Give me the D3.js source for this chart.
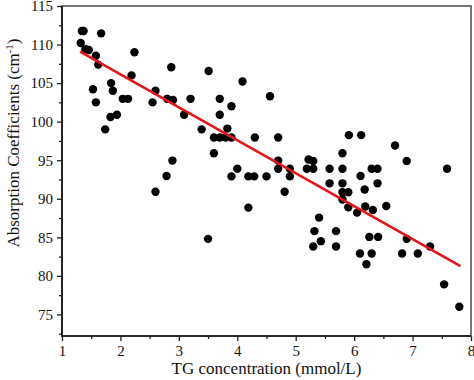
<!DOCTYPE html>
<html>
<head>
<meta charset="utf-8">
<script src="https://cdn.jsdelivr.net/npm/d3@7"></script>
<style>
  body { margin: 0; background: #fff; }
  text { font-family: "Liberation Serif", "Times New Roman", serif; }
</style>
</head>
<body>
<svg width="474" height="380"></svg>
<script>
var WIDTH = 474;
var HEIGHT = 380;

// TG concentration (mmol/L)
var tgValues = [
  1.34, 1.37, 1.32, 1.67, 1.40, 1.46, 1.58, 1.62, 2.24, 2.19,
  2.87, 1.84, 1.87, 1.53, 1.58, 2.04, 2.13, 1.83, 1.94, 1.74,
  2.60, 2.55, 2.80, 2.90, 3.20, 3.09, 3.39, 2.89, 2.79, 2.60,
  3.51, 4.09, 3.70, 3.70, 3.90, 4.56, 3.83, 3.60, 3.70, 3.80,
  3.90, 4.30, 4.70, 3.60, 4.70, 4.70, 4.90, 5.22, 5.30, 5.19,
  5.30, 5.58, 4.00, 3.90, 4.19, 4.29, 4.50, 4.90, 5.58, 4.81,
  4.19, 3.50, 5.40, 5.32, 5.43, 5.30, 5.91, 6.12, 6.70, 5.80,
  6.90, 5.80, 6.30, 6.40, 7.59, 6.11, 5.80, 6.40, 6.18, 5.80,
  5.90, 5.80, 5.90, 6.05, 6.19, 6.32, 6.55, 5.69, 5.69, 6.26,
  6.41, 6.90, 7.30, 6.10, 6.30, 6.82, 7.09, 6.21, 7.54, 7.80
];
// absorption coefficients (cm-1), same order
var absValues = [
  111.75, 111.75, 110.2, 111.45, 109.4, 109.3, 108.55, 107.4, 109.0, 106.0,
  107.05, 105.0, 104.0, 104.2, 102.5, 102.96, 102.96, 100.6, 100.9, 99.0,
  104.0, 102.5, 102.96, 102.8, 102.96, 100.9, 99.0, 94.95, 92.96, 90.9,
  106.56, 105.2, 102.96, 100.9, 102.0, 103.3, 99.1, 97.94, 97.94, 97.94,
  97.94, 97.94, 97.94, 95.9, 94.95, 93.9, 93.9, 95.1, 94.9, 93.9,
  93.9, 93.9, 93.9, 92.9, 92.9, 92.9, 92.9, 92.9, 92.0, 90.9,
  88.85, 84.8, 87.55, 85.8, 84.5, 83.8, 98.25, 98.25, 96.9, 95.9,
  94.9, 93.9, 93.9, 93.9, 93.9, 92.96, 92.0, 92.0, 91.2, 90.85,
  90.85, 89.9, 88.9, 88.2, 89.0, 88.55, 89.07, 85.8, 83.8, 85.05,
  85.05, 84.8, 83.8, 82.9, 82.9, 82.9, 82.9, 81.5, 78.9, 76.0
];

// end points of the fitted line
var fitX = [1.31, 7.82];
var fitY = [109.07, 81.27];

var xTicks = [1, 2, 3, 4, 5, 6, 7, 8];
var yTicks = [75, 80, 85, 90, 95, 100, 105, 110, 115];

var margin = { left: 62, right: 3, top: 6, bottom: 44 };
var serif = '"Liberation Serif", "Times New Roman", serif';

var svg = d3.select('svg')
    .attr('width', WIDTH)
    .attr('height', HEIGHT);

var x = d3.scaleLinear()
    .domain([1, 8])
    .range([margin.left, WIDTH - margin.right]);

var y = d3.scaleLinear()
    .domain([72.2, 115])
    .range([HEIGHT - margin.bottom, margin.top]);

var points = tgValues.map(function(v, i) { return { x: v, y: absValues[i] }; });

// minor ticks (halfway between majors)
var xMinor = xTicks.slice(0, -1).map(function(t) { return t + 0.5; });
var yMinor = yTicks.map(function(t) { return t - 2.5; });

function styleAxis(g) {
    g.select('.domain').remove();
    g.attr('font-family', serif);
    g.selectAll('line').attr('stroke', '#222').attr('stroke-width', 1.3);
    g.selectAll('text').attr('font-size', 15).attr('fill', '#111');
}

svg.append('g')
    .attr('transform', 'translate(0,' + (HEIGHT - margin.bottom) + ')')
    .call(d3.axisBottom(x).tickValues(xMinor).tickSize(3).tickFormat(''))
    .call(styleAxis);

svg.append('g')
    .attr('transform', 'translate(' + margin.left + ',0)')
    .call(d3.axisLeft(y).tickValues(yMinor).tickSize(3).tickFormat(''))
    .call(styleAxis);

svg.append('g')
    .attr('transform', 'translate(0,' + (HEIGHT - margin.bottom) + ')')
    .call(d3.axisBottom(x).tickValues(xTicks).tickSize(5).tickPadding(4).tickFormat(d3.format('d')))
    .call(styleAxis);

svg.append('g')
    .attr('transform', 'translate(' + margin.left + ',0)')
    .call(d3.axisLeft(y).tickValues(yTicks).tickSize(5).tickPadding(4).tickFormat(d3.format('d')))
    .call(styleAxis);

// frame around the plot: top/right grey, left/bottom black
svg.append('rect')
    .attr('x', x(1))
    .attr('y', y(115))
    .attr('width', x(8) - x(1))
    .attr('height', y(72.2) - y(115))
    .attr('fill', 'none')
    .attr('stroke', '#555')
    .attr('stroke-width', 1.6);

svg.append('path')
    .attr('d', 'M' + x(1) + ',' + y(115) + 'V' + y(72.2) + 'H' + x(8))
    .attr('fill', 'none')
    .attr('stroke', '#111')
    .attr('stroke-width', 1.6);

// scatter
svg.append('g').selectAll('circle')
    .data(points)
    .enter()
    .append('circle')
    .attr('cx', function(d) { return x(d.x); })
    .attr('cy', function(d) { return y(d.y); })
    .attr('r', 4.2)
    .attr('fill', '#000');

// fitted line
var line = d3.line()
    .x(function(d) { return x(d[0]); })
    .y(function(d) { return y(d[1]); });

svg.append('path')
    .datum(fitX.map(function(v, i) { return [v, fitY[i]]; }))
    .attr('d', line)
    .attr('fill', 'none')
    .attr('stroke', '#e4161b')
    .attr('stroke-width', 2.6);

// axis titles
svg.append('text')
    .attr('x', (x(1) + x(8)) / 2)
    .attr('y', 374)
    .attr('text-anchor', 'middle')
    .attr('font-size', 17)
    .attr('fill', '#111')
    .text('TG concentration (mmol/L)');

var yTitle = svg.append('text')
    .attr('transform', 'translate(19,143) rotate(-90)')
    .attr('text-anchor', 'middle')
    .attr('font-size', 17)
    .attr('fill', '#111');
yTitle.append('tspan').text('Absorption Coefficients (cm');
yTitle.append('tspan').attr('font-size', 11).attr('dy', -6).text('-1');
yTitle.append('tspan').attr('dy', 6).text(')');
</script>
</body>
</html>
